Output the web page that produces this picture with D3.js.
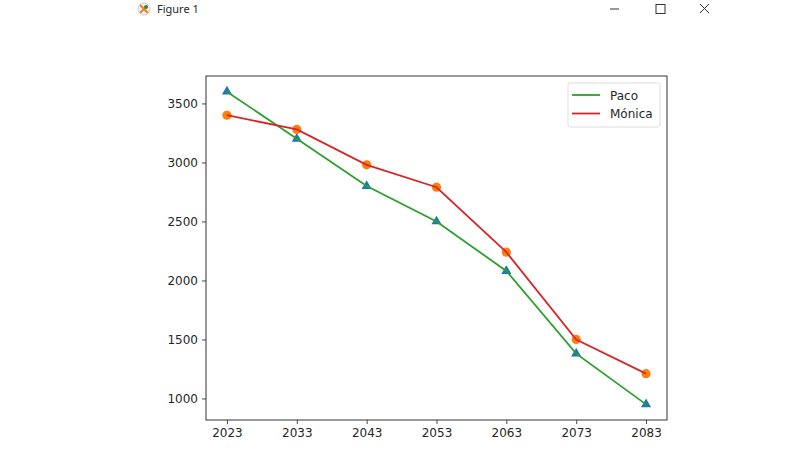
<!DOCTYPE html>
<html lang="en">
<head>
<meta charset="UTF-8">
<title>Figure 1</title>
<script src="https://cdnjs.cloudflare.com/ajax/libs/d3/7.8.5/d3.min.js"></script>
<style>
  body { margin: 0; background: #fff; }
  svg { display: block; }
  text { font-family: "DejaVu Sans", sans-serif; fill: #262626; }
</style>
</head>
<body>
<div id="chart"></div>
<script>
// data
const years = [2023, 2033, 2043, 2053, 2063, 2073, 2083];
const paco = [3600, 3200, 2800, 2500, 2080, 1380, 950];
const monica = [3400, 3280, 2980, 2790, 2240, 1500, 1210];
const yTicks = [1000, 1500, 2000, 2500, 3000, 3500];
const seriesNames = ["Paco", "Mónica"];

const width = 800, height = 450;
const box = { left: 206, right: 667, top: 76, bottom: 420 };

const svg = d3.select("#chart").append("svg")
    .attr("width", width)
    .attr("height", height);

// window title bar
const bar = svg.append("g");
const icon = bar.append("g").attr("transform", "translate(144,9)");
icon.append("circle").attr("r", 6).attr("fill", "#f3f3f3").attr("stroke", "#ccc");
icon.append("path").attr("d", "M-4,-4 L4,4 M-4,4 L0,0").attr("stroke", "#e8832a").attr("stroke-width", 2);
icon.append("circle").attr("cx", 2).attr("cy", -2).attr("r", 2).attr("fill", "#3a7d3a");
bar.append("text").attr("x", 157).attr("y", 13)
    .style("font-family", "'Noto Sans', sans-serif").style("font-size", "11px")
    .attr("fill", "#222").text("Figure 1");
bar.append("line").attr("x1", 610).attr("x2", 619).attr("y1", 9).attr("y2", 9)
    .attr("stroke", "#333").attr("stroke-width", 1);
bar.append("rect").attr("x", 656).attr("y", 4.5).attr("width", 9).attr("height", 9)
    .attr("fill", "none").attr("stroke", "#333").attr("stroke-width", 1);
bar.append("path").attr("d", "M700,4 L709,13 M709,4 L700,13")
    .attr("stroke", "#333").attr("stroke-width", 1);

// scales with matplotlib-like 5% margins
const xPad = (d3.max(years) - d3.min(years)) * 0.05;
const allY = paco.concat(monica);
const yPad = (d3.max(allY) - d3.min(allY)) * 0.05;

const x = d3.scaleLinear()
    .domain([d3.min(years) - xPad, d3.max(years) + xPad])
    .range([box.left, box.right]);
const y = d3.scaleLinear()
    .domain([d3.min(allY) - yPad, d3.max(allY) + yPad])
    .range([box.bottom, box.top]);

// axes
const xAxis = svg.append("g")
    .attr("transform", `translate(0,${box.bottom})`)
    .call(d3.axisBottom(x).tickValues(years).tickFormat(d3.format("d")).tickSize(4).tickPadding(4));
const yAxis = svg.append("g")
    .attr("transform", `translate(${box.left},0)`)
    .call(d3.axisLeft(y).tickValues(yTicks).tickFormat(d3.format("d")).tickSize(4).tickPadding(4));

[xAxis, yAxis].forEach(a => {
    a.select(".domain").remove();
    a.selectAll(".tick line").attr("stroke", "#333").attr("stroke-width", 0.9);
    a.selectAll(".tick text").style("font-size", "12px")
        .style("font-family", "'DejaVu Sans', sans-serif").attr("fill", "#262626");
});

// frame
svg.append("rect")
    .attr("x", box.left).attr("y", box.top)
    .attr("width", box.right - box.left).attr("height", box.bottom - box.top)
    .attr("fill", "none").attr("stroke", "#333").attr("stroke-width", 1);

// markers (drawn below the lines)
svg.selectAll(".tri").data(years).enter().append("path")
    .attr("class", "tri")
    .attr("d", d3.symbol().type(d3.symbolTriangle).size(44))
    .attr("transform", (d, i) => `translate(${x(d)},${y(paco[i])})`)
    .attr("fill", "#1f77b4");

svg.selectAll(".dot").data(years).enter().append("circle")
    .attr("class", "dot")
    .attr("cx", d => x(d))
    .attr("cy", (d, i) => y(monica[i]))
    .attr("r", 4.6)
    .attr("fill", "#ff7f0e");

const line = d3.line().x(d => x(d[0])).y(d => y(d[1]));

svg.append("path")
    .datum(years.map((d, i) => [d, paco[i]]))
    .attr("d", line)
    .attr("fill", "none").attr("stroke", "#2ca02c").attr("stroke-width", 1.8);

svg.append("path")
    .datum(years.map((d, i) => [d, monica[i]]))
    .attr("d", line)
    .attr("fill", "none").attr("stroke", "#d62728").attr("stroke-width", 1.8);

// legend
const legend = svg.append("g");
legend.append("rect")
    .attr("x", 568).attr("y", 83).attr("width", 92).attr("height", 44)
    .attr("rx", 2).attr("fill", "#fff").attr("stroke", "#ddd").attr("stroke-width", 1);
const legendColors = ["#2ca02c", "#d62728"];
seriesNames.forEach((name, i) => {
    const ly = 95 + i * 18.5;
    legend.append("line")
        .attr("x1", 572).attr("x2", 600).attr("y1", ly).attr("y2", ly)
        .attr("stroke", legendColors[i]).attr("stroke-width", 1.8);
    legend.append("text")
        .attr("x", 610).attr("y", ly + 4.5)
        .style("font-size", "12px")
        .text(name);
});
</script>
</body>
</html>
